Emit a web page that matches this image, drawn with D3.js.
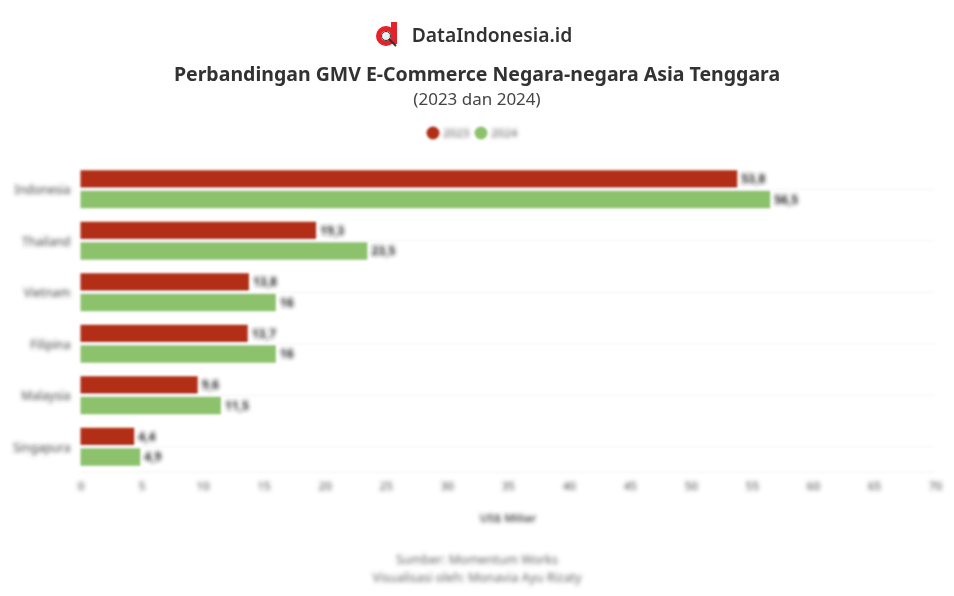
<!DOCTYPE html>
<html lang="en">
<head>
<meta charset="UTF-8">
<title>Perbandingan GMV E-Commerce Negara-negara Asia Tenggara</title>
<script src="https://d3js.org/d3.v7.min.js"></script>
<style>
    html, body { margin: 0; padding: 0; background: #fff; overflow: hidden; }
    svg { display: block; font-family: "Noto Sans", "Open Sans", sans-serif; }
</style>
</head>
<body>
<svg id="chart" width="954" height="596"></svg>
<script>
const countries = ["Indonesia", "Thailand", "Vietnam", "Filipina", "Malaysia", "Singapura"];
const years = ["2023", "2024"];
const gmv2023 = [53.8, 19.3, 13.8, 13.7, 9.6, 4.4];
const gmv2024 = [56.5, 23.5, 16, 16, 11.5, 4.9];
const xTicks = [0, 5, 10, 15, 20, 25, 30, 35, 40, 45, 50, 55, 60, 65, 70];
const colors = ["#b22e17", "#8cc26c"];

const svg = d3.select("#chart");
const fmt = v => String(v).replace(".", ",");

// the reference is soft everywhere, small text most of all
const defs = svg.append("defs");
function addBlur(id, amount) {
    defs.append("filter").attr("id", id)
        .attr("filterUnits", "userSpaceOnUse")
        .attr("x", 0).attr("y", 0).attr("width", 954).attr("height", 596)
        .append("feGaussianBlur").attr("stdDeviation", amount);
}
addBlur("softHeader", 0.55);
addBlur("softBars", 0.9);
addBlur("softText", 2);

const x = d3.scaleLinear().domain([0, 70]).range([80.5, 935]);
const y = d3.scaleBand().domain(countries).range([163.5, 472.5]);

// header
const logo = svg.append("g").attr("filter", "url(#softHeader)");
logo.append("rect").attr("x", 391).attr("y", 22).attr("width", 6).attr("height", 22).attr("fill", "#e3202c");
logo.append("circle").attr("cx", 386).attr("cy", 36).attr("r", 7.5).attr("fill", "#fff").attr("stroke", "#e3202c").attr("stroke-width", 5);
logo.append("circle").attr("cx", 386).attr("cy", 36).attr("r", 4.5).attr("fill", "#e8eef0").attr("stroke", "#333").attr("stroke-width", 1);
logo.append("line").attr("x1", 389).attr("y1", 39).attr("x2", 396).attr("y2", 46).attr("stroke", "#333").attr("stroke-width", 2);

const header = svg.append("g").attr("filter", "url(#softHeader)").attr("text-anchor", "middle").attr("fill", "#333");
header.append("text").attr("x", 492).attr("y", 42).attr("font-size", 19.3).attr("font-weight", 600).text("DataIndonesia.id");
header.append("text").attr("x", 477).attr("y", 81).attr("font-size", 19.5).attr("font-weight", 700).text("Perbandingan GMV E-Commerce Negara-negara Asia Tenggara");
header.append("text").attr("x", 477).attr("y", 105).attr("font-size", 17).attr("fill", "#444").text("(2023 dan 2024)");

const marks = svg.append("g").attr("filter", "url(#softBars)");
const labels = svg.append("g").attr("filter", "url(#softText)");

// legend
years.forEach((yr, i) => {
    const lx = 433 + i * 48;
    marks.append("circle").attr("cx", lx).attr("cy", 133).attr("r", 6.5).attr("fill", colors[i]);
    labels.append("text").attr("x", lx + 10).attr("y", 137).attr("font-size", 11.5).attr("fill", "#555").text(yr);
});

// gridlines
marks.append("g").selectAll("line").data(countries).join("line")
    .attr("x1", x(0)).attr("x2", x(70))
    .attr("y1", d => y(d) + y.bandwidth() / 2).attr("y2", d => y(d) + y.bandwidth() / 2)
    .attr("stroke", "#f4f4f4");
marks.append("line").attr("x1", x(0)).attr("x2", x(70)).attr("y1", 472).attr("y2", 472).attr("stroke", "#f2f2f2");

// bars
const barH = 17.5;
[gmv2023, gmv2024].forEach((series, s) => {
    const barY = c => y(c) + y.bandwidth() / 2 + (s === 0 ? -barH - 1.5 : 1.5);
    marks.append("g").selectAll("rect").data(countries).join("rect")
        .attr("x", x(0)).attr("y", barY)
        .attr("width", (c, i) => x(series[i]) - x(0)).attr("height", barH)
        .attr("fill", colors[s]);
    labels.append("g").selectAll("text").data(countries).join("text")
        .attr("x", (c, i) => x(series[i]) + 4).attr("y", c => barY(c) + barH / 2 + 4)
        .attr("font-size", 12).attr("font-weight", 700).attr("fill", "#222")
        .text((c, i) => fmt(series[i]));
});

// axes
const xAxis = labels.append("g").attr("transform", "translate(0,472)")
    .call(d3.axisBottom(x).tickValues(xTicks).tickSize(0).tickPadding(10).tickFormat(d3.format("d")))
    .attr("font-family", null);
xAxis.select(".domain").remove();
xAxis.selectAll("text").attr("font-size", 11.5).attr("fill", "#444");

const yAxis = labels.append("g").attr("transform", "translate(80.5,1)")
    .call(d3.axisLeft(y).tickSize(0).tickPadding(10))
    .attr("font-family", null);
yAxis.select(".domain").remove();
yAxis.selectAll("text").attr("font-size", 12).attr("fill", "#444");

labels.append("text").attr("x", 508).attr("y", 522).attr("text-anchor", "middle")
    .attr("font-size", 11.5).attr("font-weight", 600).attr("fill", "#444").text("US$ Miliar");

// footer
const footer = labels.append("g").attr("text-anchor", "middle").attr("font-size", 12.5).attr("fill", "#666");
footer.append("text").attr("x", 477).attr("y", 564).text("Sumber: Momentum Works");
footer.append("text").attr("x", 477).attr("y", 582).text("Visualisasi oleh: Monavia Ayu Rizaty");
</script>
</body>
</html>
